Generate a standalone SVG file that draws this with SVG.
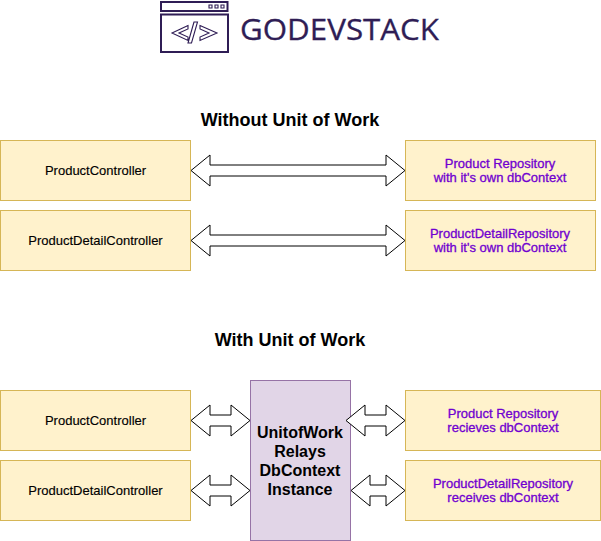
<svg xmlns="http://www.w3.org/2000/svg" width="601" height="541" viewBox="0 0 601 541">
<style>
text{font-family:"Liberation Sans",Arial,sans-serif;text-anchor:middle}
.y{fill:#fff2cc;stroke:#d6b656;stroke-width:1}
.l{font-size:13px;fill:#000;stroke:#000;stroke-width:.15}
.p{font-size:13px;fill:#7000d0;stroke:#7000d0;stroke-width:.3}
.h{font-size:18px;font-weight:bold;fill:#000}
.b{font-size:16px;font-weight:bold;fill:#000}
.a{fill:#fff;stroke:#000;stroke-width:1;stroke-linejoin:round}
.logo{fill:none;stroke:#2f1d55;stroke-width:2}
.glyph{fill:none;stroke:#2f1d55;stroke-width:1.100}
</style>
<rect width="601" height="541" fill="#fff"/>
<g id="logo">
<rect class="logo" x="161" y="2" width="66.500" height="9"/>
<rect class="logo" x="161" y="14.500" width="67" height="37.500"/>
<path class="glyph" d="M209 5h3v3h-3zM215 5h3v3h-3zM221 5h3v3h-3z"/>
<path class="glyph" d="M188 25.500l-16 7.500 16 7.500v-3.500l-9-4 9-4zM194 22l-6 21h3.500l6-21zM200 25.500l17 7.500-17 7.500v-3.500l9-4-9-4z"/>
<text x="339.500" y="39.500" textLength="199" lengthAdjust="spacingAndGlyphs" style="font-family:'Open Sans','Liberation Sans',sans-serif;font-size:30px;stroke:#2f1d55;stroke-width:.3" fill="#2f1d55">GODEVSTACK</text>
</g>
<text class="h" x="290" y="125.500">Without Unit of Work</text>
<text class="h" x="290" y="345.500">With Unit of Work</text>
<g id="n1"><rect class="y" x="0.500" y="140.500" width="190" height="60"/><text class="l" x="95.500" y="175">ProductController</text></g>
<g id="n2"><rect class="y" x="0.500" y="210.500" width="190" height="60"/><text class="l" x="95.500" y="245">ProductDetailController</text></g>
<g id="n3"><rect class="y" x="405.500" y="140.500" width="190" height="60"/><text class="p" x="500" y="168">Product Repository</text><text class="p" x="500" y="182">with it's own dbContext</text></g>
<g id="n4"><rect class="y" x="405.500" y="210.500" width="190" height="60"/><text class="p" x="500" y="238">ProductDetailRepository</text><text class="p" x="500" y="252">with it's own dbContext</text></g>
<g id="n5"><rect class="y" x="0.500" y="390.500" width="190" height="60"/><text class="l" x="95.500" y="425">ProductController</text></g>
<g id="n6"><rect class="y" x="0.500" y="460.500" width="190" height="60"/><text class="l" x="95.500" y="495">ProductDetailController</text></g>
<g id="n7"><rect x="250.500" y="380.500" width="100" height="160" fill="#e1d5e7" stroke="#9673a6"/><text class="b" x="300" y="438">UnitofWork</text><text class="b" x="300" y="457">Relays</text><text class="b" x="300" y="476">DbContext</text><text class="b" x="300" y="495">Instance</text></g>
<g id="n8"><rect class="y" x="405.500" y="390.500" width="195" height="60"/><text class="p" x="503" y="418">Product Repository</text><text class="p" x="503" y="432">recieves dbContext</text></g>
<g id="n9"><rect class="y" x="405.500" y="460.500" width="195" height="60"/><text class="p" x="503" y="488">ProductDetailRepository</text><text class="p" x="503" y="502">receives dbContext</text></g>
<g id="connectors">
<path class="a" d="M191 170.500l19-15.500v10h176v-10l19 15.500-19 15.500v-10H210v10z"/>
<path class="a" d="M191 240.500l19-15.500v10h176v-10l19 15.500-19 15.500v-10H210v10z"/>
<path class="a" d="M191 420.500l19-15.500v10h21v-10l19 15.500-19 15.500v-10h-21v10z"/>
<path class="a" d="M191 490.500l19-15.500v10h21v-10l19 15.500-19 15.500v-10h-21v10z"/>
<path class="a" d="M346 420.500l19-15.500v10h21v-10l19 15.500-19 15.500v-10h-21v10z"/>
<path class="a" d="M351 490.500l19-15.500v10h16v-10l19 15.500-19 15.500v-10h-16v10z"/>
</g>
</svg>
